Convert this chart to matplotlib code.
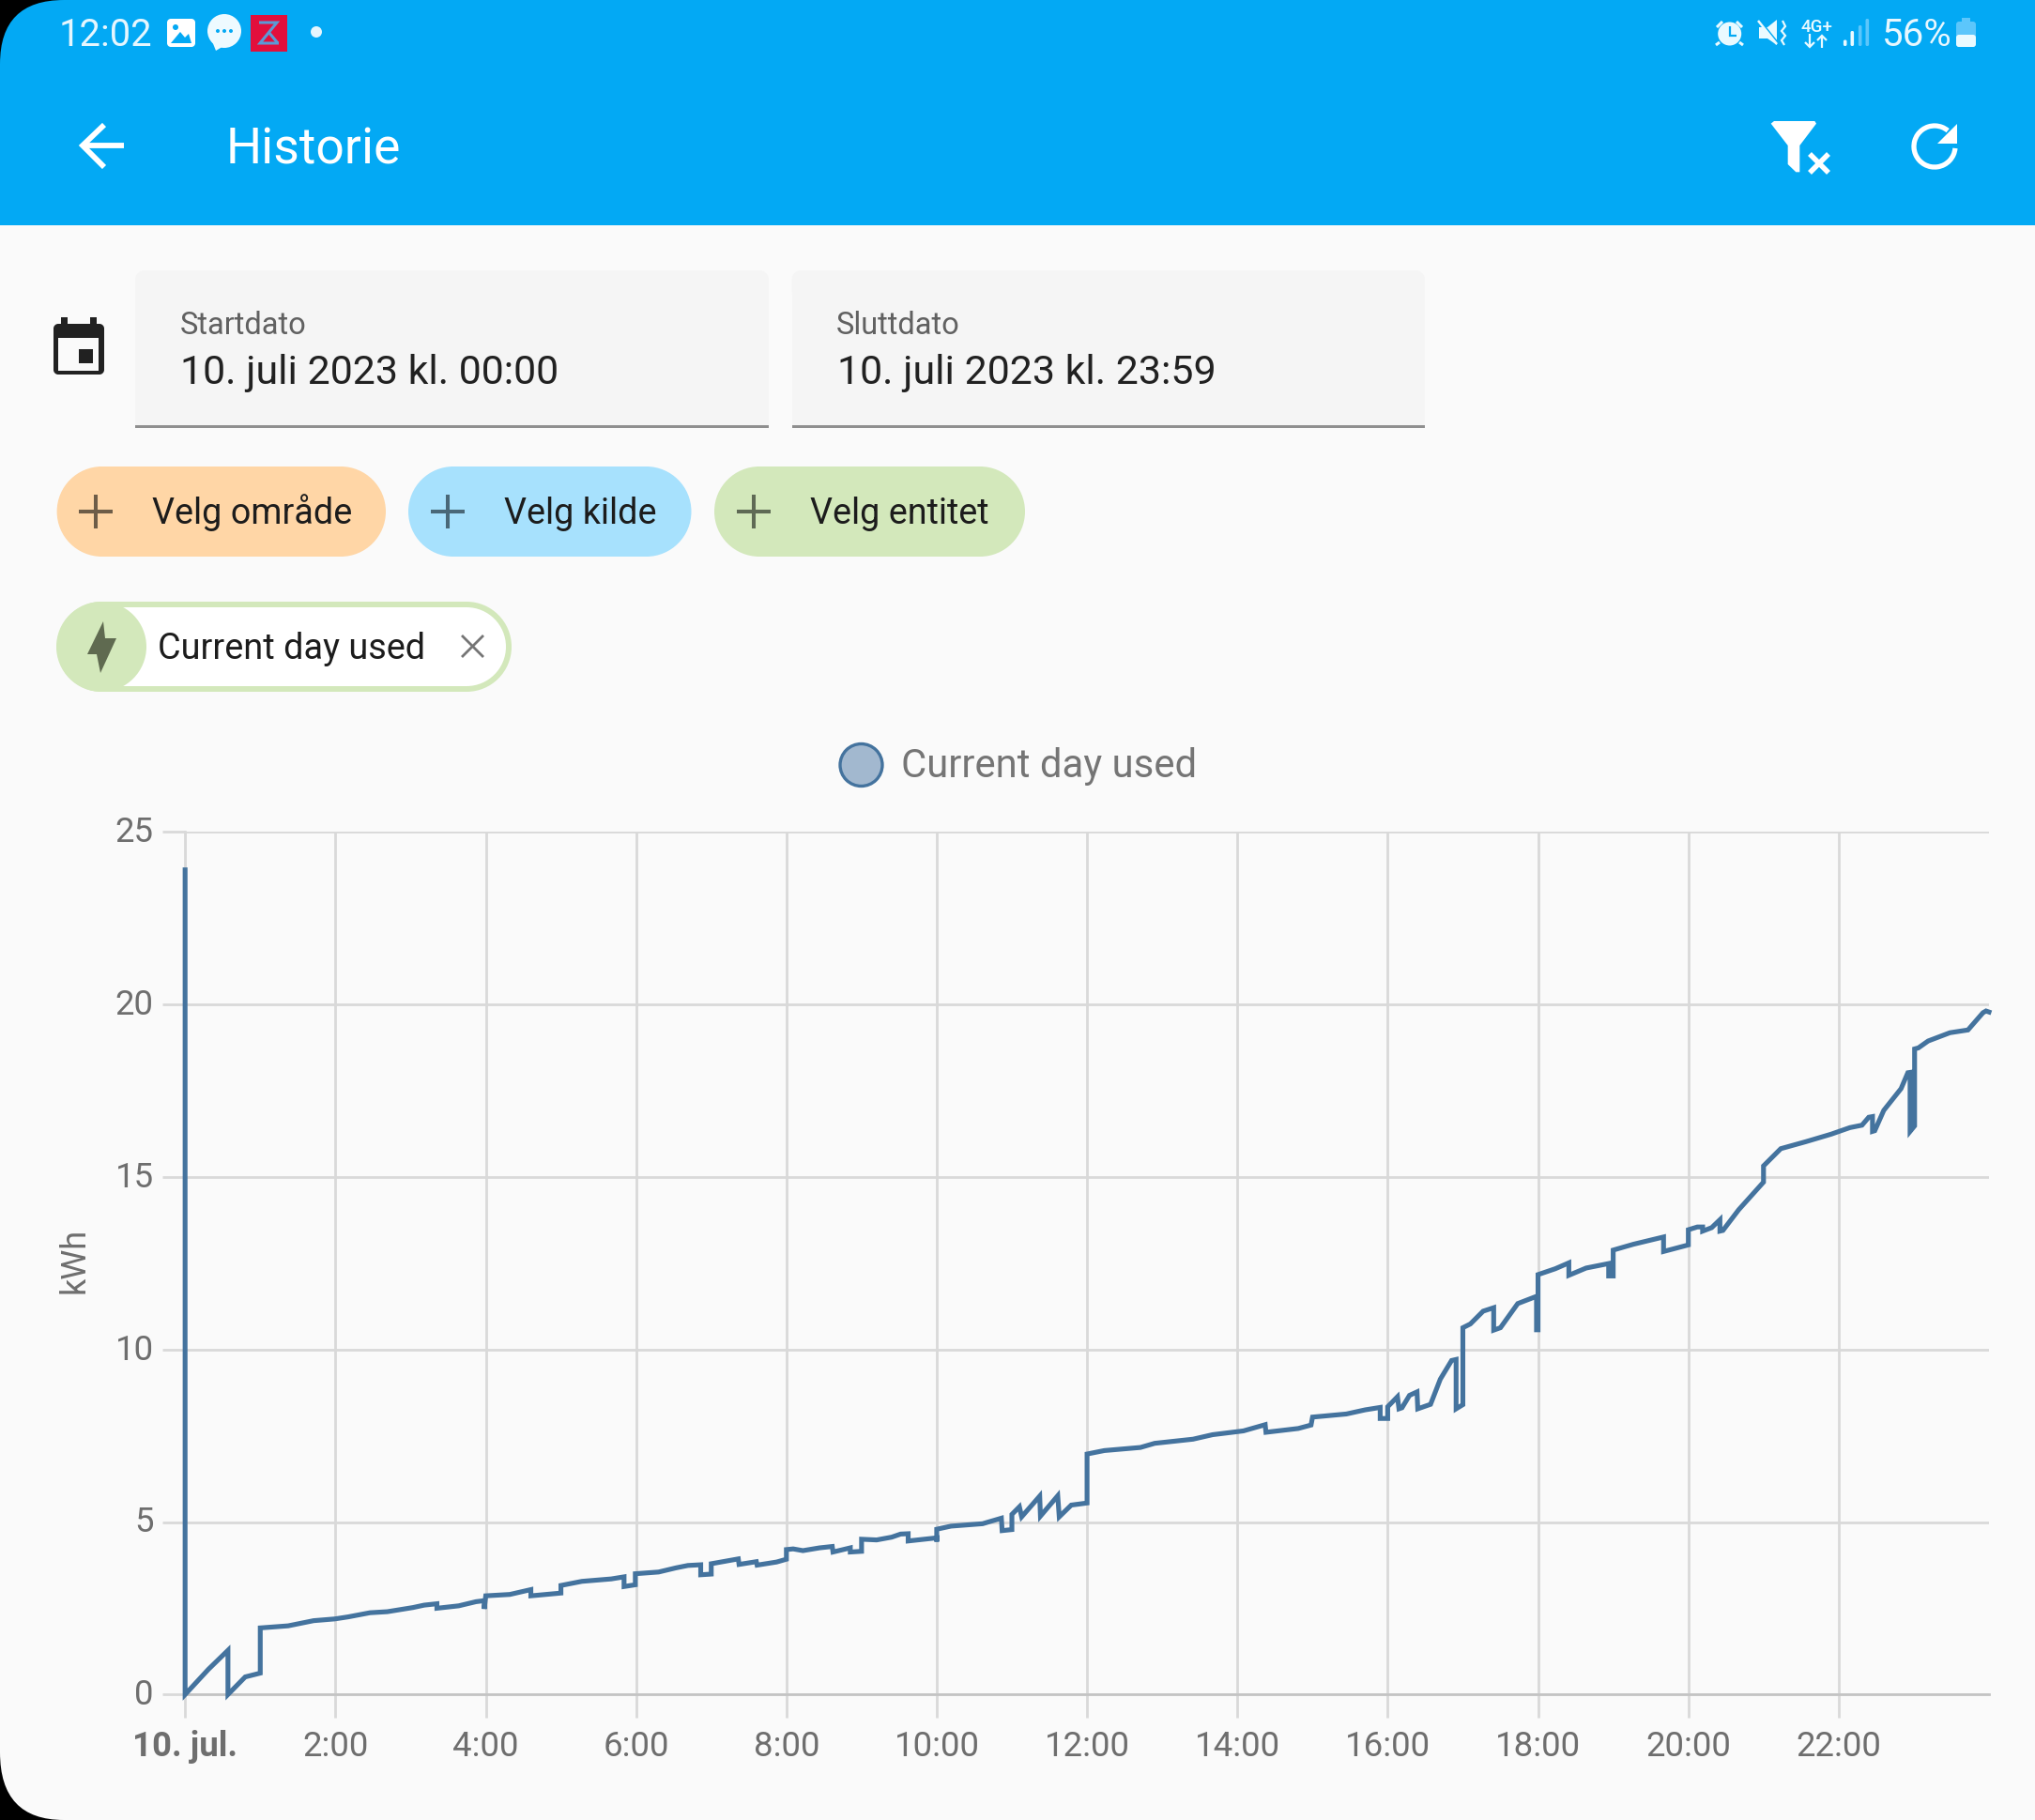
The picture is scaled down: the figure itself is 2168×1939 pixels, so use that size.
import matplotlib
matplotlib.use("Agg")
import matplotlib.pyplot as plt
from matplotlib.patches import Rectangle, Polygon, Circle, Arc, PathPatch
from matplotlib.path import Path
from matplotlib.transforms import ScaledTranslation

plt.rcParams['font.family'] = ['Roboto', 'DejaVu Sans']

# ---------- data ----------
hours = [0, 0, 0.31, 0.57, 0.57, 0.80, 1.0, 1.0, 1.37, 1.71, 1.99, 2.17, 2.46, 2.69, 3.03, 3.18, 3.35, 3.35,
         3.64, 3.87, 3.98, 3.98, 4.0, 4.32, 4.60, 4.60, 5.0, 5.0, 5.28, 5.67, 5.84, 5.84, 5.99, 5.99, 6.3,
         6.53, 6.69, 6.86, 6.86, 7.0, 7.0, 7.36, 7.37, 7.6, 7.61, 7.87, 8.0, 8.0, 8.09, 8.22, 8.44, 8.61, 8.62,
         8.85, 8.85, 9.0, 9.0, 9.2, 9.4, 9.52, 9.62, 9.62, 10.0, 10.0, 10.0, 10.19, 10.61, 10.86, 10.87, 11.0,
         11.0, 11.1, 11.13, 11.37, 11.38, 11.61, 11.63, 11.79, 12.0, 12.0, 12.23, 12.71, 12.9, 13.41, 13.67,
         14.08, 14.37, 14.38, 14.81, 14.98, 15.0, 15.45, 15.7, 15.9, 15.9, 16.0, 16.0, 16.13, 16.15, 16.19,
         16.29, 16.39, 16.4, 16.57, 16.7, 16.85, 16.91, 16.91, 17.0, 17.0, 17.1, 17.27, 17.41, 17.41, 17.5,
         17.73, 17.98, 17.98, 18.0, 18.0, 18.23, 18.41, 18.41, 18.64, 18.94, 18.94, 19.0, 19.0, 19.27, 19.67,
         19.67, 20.0, 20.0, 20.12, 20.19, 20.19, 20.31, 20.42, 20.42, 20.46, 20.67, 21.0, 21.0, 21.23, 21.56,
         21.9, 22.15, 22.31, 22.4, 22.45, 22.45, 22.48, 22.6, 22.83, 22.92, 22.95, 22.95, 23.01, 23.01, 23.06,
         23.19, 23.48, 23.72, 23.92, 23.96, 24.0]
kwh = [23.9, 0, 0.73, 1.28, 0, 0.51, 0.62, 1.93, 1.99, 2.14, 2.19, 2.25, 2.37, 2.40, 2.52, 2.59, 2.63, 2.50,
       2.57, 2.69, 2.72, 2.48, 2.86, 2.90, 3.04, 2.86, 2.94, 3.16, 3.28, 3.35, 3.41, 3.13, 3.18, 3.50, 3.55,
       3.67, 3.74, 3.76, 3.47, 3.49, 3.79, 3.93, 3.77, 3.85, 3.75, 3.84, 3.92, 4.2, 4.22, 4.17, 4.25, 4.29, 4.13,
       4.25, 4.13, 4.15, 4.5, 4.48, 4.56, 4.65, 4.66, 4.45, 4.54, 4.43, 4.79, 4.88, 4.95, 5.11, 4.75, 4.78,
       5.22, 5.44, 5.15, 5.75, 5.17, 5.76, 5.15, 5.49, 5.55, 6.97, 7.07, 7.16, 7.28, 7.4, 7.53,
       7.64, 7.82, 7.6, 7.71, 7.81, 8.04, 8.13, 8.25, 8.32, 8.0, 8.0, 8.34, 8.63, 8.28, 8.31,
       8.67, 8.77, 8.28, 8.41, 9.14, 9.68, 9.71, 8.28, 8.4, 10.63, 10.74, 11.11, 11.21, 10.56, 10.63,
       11.33, 11.54, 10.57, 10.57, 12.17, 12.34, 12.51, 12.15, 12.36, 12.49, 12.13, 12.13, 12.88, 13.05, 13.26,
       12.84, 13.03, 13.47, 13.55, 13.55, 13.43, 13.53, 13.76, 13.43, 13.45, 14.05, 14.85, 15.32, 15.82, 16.02,
       16.24, 16.43, 16.5, 16.73, 16.75, 16.32, 16.34, 16.93, 17.56, 18.02, 18.03, 16.32, 16.48, 18.71, 18.74,
       18.94, 19.18, 19.26, 19.76, 19.81, 19.78]
x_tick_hours = [0, 2, 4, 6, 8, 10, 12, 14, 16, 18, 20, 22]
x_tick_labels = ['10. jul.', '2:00', '4:00', '6:00', '8:00', '10:00', '12:00', '14:00', '16:00', '18:00', '20:00', '22:00']
y_ticks = [0, 5, 10, 15, 20, 25]
series_name = 'Current day used'

# ---------- figure ----------
W, H = 2168, 1939
BG = '#fafafa'
BLUE = '#03a9f4'
LINE = '#44739e'
GRID = '#d9d9d9'
AXIS = '#c4c4c4'
TICKC = '#6e6e6e'
fig = plt.figure(figsize=(W / 100, H / 100), dpi=100, facecolor=BG)
ui = fig.add_axes([0, 0, 1, 1])
ui.set_xlim(0, W)
ui.set_ylim(H, 0)
ui.axis('off')

def pill(x0, y0, x1, y1, r, color, z=2):
    k = r * 0.4477
    verts = [(x0 + r, y0), (x1 - r, y0), (x1 - k, y0), (x1, y0 + k), (x1, y0 + r),
             (x1, y1 - r), (x1, y1 - k), (x1 - k, y1), (x1 - r, y1),
             (x0 + r, y1), (x0 + k, y1), (x0, y1 - k), (x0, y1 - r),
             (x0, y0 + r), (x0, y0 + k), (x0 + k, y0), (x0 + r, y0), (x0 + r, y0)]
    codes = [Path.MOVETO, Path.LINETO, Path.CURVE4, Path.CURVE4, Path.CURVE4,
             Path.LINETO, Path.CURVE4, Path.CURVE4, Path.CURVE4,
             Path.LINETO, Path.CURVE4, Path.CURVE4, Path.CURVE4,
             Path.LINETO, Path.CURVE4, Path.CURVE4, Path.CURVE4, Path.CLOSEPOLY]
    ui.add_patch(PathPatch(Path(verts, codes), fc=color, ec='none', zorder=z))

def seg(xs, ys, color='white', lw=3.5, z=5, cap='butt'):
    ui.plot(xs, ys, color=color, lw=lw, zorder=z, solid_capstyle=cap, solid_joinstyle='miter')

def label(x, y, s, size, color, **kw):
    ui.text(x, y, s, fontsize=size, color=color, va=kw.pop('va', 'baseline'), zorder=6, **kw)

# header
ui.add_patch(Rectangle((0, 0), W, 240, fc=BLUE, ec='none', zorder=1))
label(63, 49, '12:02', 28.7, '#e6f6fe')
label(241, 174.5, 'Historie', 38.5, 'white')

# back arrow
seg([88, 132], [155, 155], lw=4.2)
seg([111, 88, 111], [133, 155, 178], lw=4.2)

# status icons, left
pill(178, 20, 208, 50, 4, 'white', 4)
ui.add_patch(Polygon([[182, 46], [192, 34], [197, 40], [201, 36], [204, 46]], fc=BLUE, ec='none', zorder=5))
ui.add_patch(Circle((187, 29), 3, fc=BLUE, ec='none', zorder=5))
ui.add_patch(Circle((239, 33), 18, fc='#eefaff', ec='none', zorder=4))
ui.add_patch(Polygon([[226, 44], [240, 48], [230, 54]], fc='#eefaff', ec='none', zorder=4))
for cx in (232, 239, 246):
    ui.add_patch(Circle((cx, 33), 2, fc=BLUE, ec='none', zorder=5))
ui.add_patch(Rectangle((267, 16), 39, 39, fc='#e20f3c', ec='none', zorder=4))
seg([276, 295, 277, 297], [24, 24, 46, 46], color='#5a9ad6', lw=2.2)
seg([286, 296], [34, 46], color='#5a9ad6', lw=2.2)
ui.add_patch(Circle((337, 34), 6, fc='#e6f6fe', ec='none', zorder=4))

# status icons, right
ui.add_patch(Circle((1842.7, 36), 12.5, fc='#eafaff', ec='none', zorder=4))
seg([1843, 1843, 1850], [28, 38, 38], color=BLUE, lw=1.6)
seg([1829, 1835], [29, 23], color='#eafaff', lw=2.2)
seg([1856, 1850], [29, 23], color='#eafaff', lw=2.2)
seg([1832, 1828], [45, 48], color='#eafaff', lw=2.2)
seg([1853, 1857], [45, 48], color='#eafaff', lw=2.2)
ui.add_patch(Polygon([[1874, 29], [1883, 29], [1893, 21], [1893, 48], [1883, 41], [1874, 41]], fc='#eafaff', ec='none', zorder=4))
seg([1875, 1895], [22, 47], color=BLUE, lw=1.6)
seg([1873, 1893], [22, 47], color='#eafaff', lw=1.8)
seg([1899, 1902, 1898, 1902, 1898, 1901], [22, 28, 33, 38, 43, 48], color='#eafaff', lw=1.6)
label(1935, 34, '4G+', 13.5, '#eafaff', ha='center', fontweight='medium')
seg([1928, 1928], [36, 50], color='#eafaff', lw=1.6)
seg([1923, 1928, 1933], [45, 50, 45], color='#eafaff', lw=1.6)
seg([1941, 1941], [38, 51], color='#eafaff', lw=1.6)
seg([1936, 1941, 1946], [43, 38, 43], color='#eafaff', lw=1.6)
for bx, top, col in [(1965.7, 42.5, '#eafaff'), (1973.3, 33, '#eafaff'), (1981.7, 27, '#5cc6fb'), (1989.3, 20, '#5cc6fb')]:
    pill(bx - 1.8, top, bx + 1.8, 49, 1.5, col, 4)
label(2005, 48.7, '56%', 29, '#e8f7fe')
pill(2084, 23, 2105, 50, 3, '#5cc6fb', 4)
ui.add_patch(Rectangle((2090, 19), 9, 5, fc='#5cc6fb', ec='none', zorder=4))
pill(2084, 37, 2105, 50, 3, '#eafaff', 5)

# filter and refresh
filt = [[560, 395], [570, 387], [700, 387], [705, 395], [652, 465], [652, 550], [640, 550], [614, 525], [614, 465]]
ui.add_patch(Polygon([[1700 + a / 3, b / 3] for a, b in filt], fc='white', ec='none', zorder=5))
seg([1928, 1948], [164, 184], lw=4)
seg([1948, 1928], [164, 184], lw=4)
ui.add_patch(Arc((2061, 156), 44, 44, theta1=5, theta2=310, ec='white', lw=3.8, zorder=5))
ui.add_patch(Polygon([[2085, 132], [2085, 153], [2064, 153]], fc='white', ec='none', zorder=5))

# calendar
ICON = '#212121'
pill(57, 345, 111, 399, 5, ICON, 3)
ui.add_patch(Rectangle((65, 338), 7, 9, fc=ICON, ec='none', zorder=3))
ui.add_patch(Rectangle((96, 338), 7, 9, fc=ICON, ec='none', zorder=3))
ui.add_patch(Rectangle((62, 360), 43, 35, fc=BG, ec='none', zorder=4))
ui.add_patch(Rectangle((84, 372), 15, 15, fc=ICON, ec='none', zorder=5))

# date boxes
for x0, x1, cap_text, value in [(144, 819, 'Startdato', '10. juli 2023 kl. 00:00'),
                                (843.5, 1518, 'Sluttdato', '10. juli 2023 kl. 23:59')]:
    pill(x0, 288, x1, 320, 10, '#f5f5f5', 2)
    ui.add_patch(Rectangle((x0, 300), x1 - x0, 153, fc='#f5f5f5', ec='none', zorder=2))
    ui.add_patch(Rectangle((x0, 453), x1 - x0, 3, fc='#8f8f8f', ec='none', zorder=3))
    label(x0 + 47.5, 355.5, cap_text, 23.5, '#616161')
    label(x0 + 48.3, 408.5, value, 30.9, '#212121')

# chips
for x0, x1, col, plus_x, plus_col, text_x, s in [
        (60.6, 411, '#ffd6a6', 102, '#6e5d48', 162.5, 'Velg område'),
        (435, 736.5, '#a7e1fd', 477, '#4a6878', 537, 'Velg kilde'),
        (761, 1092, '#d3e8bb', 803, '#5f6a55', 863, 'Velg entitet')]:
    pill(x0, 497, x1, 593, 48, col, 2)
    seg([plus_x - 18, plus_x + 18], [545, 545], color=plus_col, lw=2.9)
    seg([plus_x, plus_x], [527, 563], color=plus_col, lw=2.9)
    label(text_x, 558, s, 27.2, '#1c1c1c')

# selected entity chip
pill(60.6, 641, 545, 737, 48, '#d3e8bb', 2)
pill(66.6, 647, 539, 731, 42, 'white', 3)
ui.add_patch(Circle((108, 689), 48, fc='#d3e8bb', ec='none', zorder=4))
ui.add_patch(Polygon([[110, 662], [93, 697], [103, 697], [107, 717], [124, 680], [112, 680]], fc='#5f6a50', ec='none', zorder=5))
label(168.5, 701.5, series_name, 27.3, '#1c1c1c')
seg([492, 515], [677, 700], color='#757575', lw=2)
seg([515, 492], [677, 700], color='#757575', lw=2)

# chart legend
ui.add_patch(Circle((917.5, 815), 22.5, fc='#a2b8cf', ec=LINE, lw=2.4, zorder=4))
label(960, 828, series_name, 30.2, '#757575')

# ---------- chart ----------
L, R, T, B = 197.2, 2119, 886.3, 1805.3
ax = fig.add_axes([L / W, 1 - B / H, (R - L) / W, (B - T) / H], facecolor='none')
ax.set_xlim(0, 24)
ax.set_ylim(0, 25)
ax.plot(hours, kwh, color=LINE, lw=3.7, solid_joinstyle='miter', clip_on=False, zorder=5, label=series_name)
ax.set_xticks(x_tick_hours)
ax.set_xticklabels(x_tick_labels)
ax.set_yticks(y_ticks)
ax.grid(True, color=GRID, lw=2)
ax.set_axisbelow(True)
ax.tick_params(axis='both', color=GRID, width=2, labelsize=26.4, labelcolor=TICKC)
ax.tick_params(axis='x', length=18, pad=9)
ax.tick_params(axis='y', length=17, pad=7)
ax.get_xticklabels()[0].set_fontweight('bold')
up = ScaledTranslation(0, 0.03, fig.dpi_scale_trans)
for t in ax.get_yticklabels():
    t.set_transform(t.get_transform() + up)
for s in ('top', 'right'):
    ax.spines[s].set_visible(False)
ax.spines['left'].set_color(GRID)
ax.spines['left'].set_linewidth(2)
ax.spines['bottom'].set_color(AXIS)
ax.spines['bottom'].set_linewidth(2)
ax.set_ylabel('kWh', fontsize=26, color=TICKC)
ax.yaxis.set_label_coords((97 - L) / (R - L), 0.503)

# device corners
for a, b, c, d, e in [((0, 0), (68, 0), (0, 0), (0, 68), (0, 0)),
                      ((0, H), (68, H), (0, H), (0, H - 72), (0, H))]:
    ui.add_patch(PathPatch(Path([a, b, c, d, e], [Path.MOVETO, Path.LINETO, Path.CURVE3, Path.CURVE3, Path.CLOSEPOLY]),
                           fc='black', ec='none', zorder=10))

fig.savefig('out.png', dpi=100, facecolor=BG)
